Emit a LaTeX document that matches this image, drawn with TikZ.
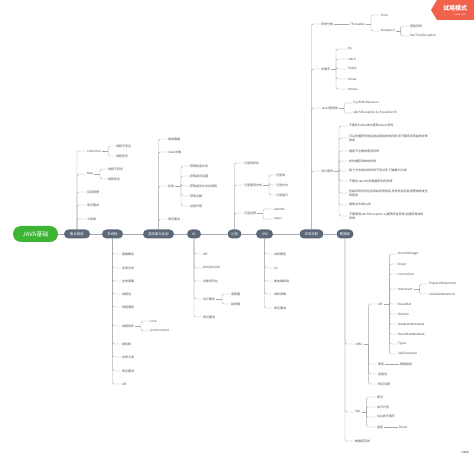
\documentclass[tikz,border=0pt]{standalone}
\usepackage{fontspec}
\setmainfont{Noto Sans CJK SC}
\usetikzlibrary{calc,positioning}
\definecolor{topicgray}{RGB}{92,104,120}
\definecolor{linegray}{RGB}{163,170,178}
\definecolor{leafgray}{RGB}{75,75,75}
\definecolor{rootgreen}{RGB}{62,180,52}
\definecolor{trialred}{RGB}{241,98,76}

\tikzset{
  topic/.style={fill=topicgray, text=white, rounded corners=4.5pt, minimum height=9pt,
                inner xsep=2pt, inner ysep=0pt, font=\fontsize{3.4}{4}\selectfont},
  leaf/.style={anchor=west, text=leafgray, inner sep=0.8pt, font=\fontsize{3}{3.8}\selectfont},
  leafwide/.style={leaf, align=left},
  link/.style={draw=linegray, line width=0.4pt, rounded corners=1.5pt},
}

\begin{document}
\begin{tikzpicture}[x=1pt, y=-1pt]
    \fill[white] (0,0) rectangle (474,457);
    \useasboundingbox (0,0) rectangle (474,457);
    % root and the topics on the main line
    \node[fill=rootgreen, text=white, rounded corners=8pt, minimum height=16pt,
          minimum width=45pt, font=\fontsize{6}{7}\selectfont] (root) at (35.5,234) {JAVA基础};
    \node[topic, minimum width=26pt] (jh) at (77,234) {集合框架};
    \node[topic, minimum width=21pt] (dxc) at (112.5,234) {多线程};
    \node[topic, minimum width=31pt] (fs) at (158.5,234) {类加载与反射};
    \node[topic, minimum width=14pt] (io) at (194,234) {IO};
    \node[topic, minimum width=14pt] (fx) at (234.5,234) {泛型};
    \node[topic, minimum width=17pt] (jvm) at (264.5,234) {JVM};
    \node[topic, minimum width=24pt] (yc) at (311.5,234) {异常机制};
    \node[topic, minimum width=17pt] (db) at (345,234) {数据库};
    \draw[linegray, line width=0.7pt] (root) -- (jh) -- (dxc) -- (fs) -- (io) -- (fx) -- (jvm) -- (yc) -- (db);

    % collections
    \foreach \nm/\txt/\y in {coll/Collection/151, map/Map/174, jhyl/实现原理/192, jhms/常见面试/205, jhgj/工具类/219} {
      \node[leaf] (\nm) at (86,\y) {\txt};
      \draw[link] (jh.north) |- (\nm.west);
    }
    \coordinate (bcoll) at ($(coll.east)+(6,0)$);
    \draw[link] (coll.east) -- (bcoll);
    \foreach \nm/\txt/\y in {collA/线程不安全/146, collB/线程安全/156} {
      \node[leaf] (\nm) at (115,\y) {\txt};
      \draw[link] (bcoll) |- (\nm.west);
    }
    \coordinate (bmap) at ($(map.east)+(6,0)$);
    \draw[link] (map.east) -- (bmap);
    \foreach \nm/\txt/\y in {mapA/线程不安全/169, mapB/线程安全/179} {
      \node[leaf] (\nm) at (107,\y) {\txt};
      \draw[link] (bmap) |- (\nm.west);
    }

    % threads
    \foreach \nm/\txt/\y in {xc1/基础概念/254, xc2/实现方式/268, xc3/生命周期/281, xc4/线程池/294, xc5/线程通信/307,
                             sync/线程同步/326, xc7/锁机制/344, xc8/并发工具/357, xc9/常见面试/371, xc10/API/384} {
      \node[leaf] (\nm) at (121,\y) {\txt};
      \draw[link] (dxc.south) |- (\nm.west);
    }
    \coordinate (bsync) at ($(sync.east)+(6,0)$);
    \draw[link] (sync.east) -- (bsync);
    \foreach \nm/\txt/\y in {lock/Lock/321, syn/synchronized/331} {
      \node[leaf] (\nm) at (149,\y) {\txt};
      \draw[link] (bsync) |- (\nm.west);
    }

    % class loading and reflection
    \foreach \nm/\txt/\y in {fs1/类加载器/139, fs2/Class对象/152, refl/反射/186, fs4/常见面试/219} {
      \node[leaf] (\nm) at (167,\y) {\txt};
      \draw[link] (fs.north) |- (\nm.west);
    }
    \coordinate (brefl) at ($(refl.east)+(6,0)$);
    \draw[link] (refl.east) -- (brefl);
    \foreach \nm/\txt/\y in {rf1/获取构造方法/166, rf2/获取成员变量/176, rf3/获取成员方法并调用/186, rf4/获取注解/196, rf5/动态代理/206} {
      \node[leaf] (\nm) at (189,\y) {\txt};
      \draw[link] (brefl) |- (\nm.west);
    }

    % io
    \foreach \nm/\txt/\y in {io1/API/254, io2/{BIO/NIO/AIO}/268, io3/对象序列化/281, iopat/设计模式/299, io5/常见面试/317} {
      \node[leaf] (\nm) at (202,\y) {\txt};
      \draw[link] (io.south) |- (\nm.west);
    }
    \coordinate (biopat) at ($(iopat.east)+(6,0)$);
    \draw[link] (iopat.east) -- (biopat);
    \foreach \nm/\txt/\y in {pat1/适配器/294, pat2/装饰器/304} {
      \node[leaf] (\nm) at (230,\y) {\txt};
      \draw[link] (biopat) |- (\nm.west);
    }

    % generics
    \foreach \nm/\txt/\y in {fx1/泛型的好处/163, fxuse/泛型使用方式/185, fxbd/泛型边界/213} {
      \node[leaf] (\nm) at (243,\y) {\txt};
      \draw[link] (fx.north) |- (\nm.west);
    }
    \coordinate (bfxuse) at ($(fxuse.east)+(6,0)$);
    \draw[link] (fxuse.east) -- (bfxuse);
    \foreach \nm/\txt/\y in {use1/泛型类/175, use2/泛型方法/185, use3/泛型接口/195} {
      \node[leaf] (\nm) at (275,\y) {\txt};
      \draw[link] (bfxuse) |- (\nm.west);
    }
    \coordinate (bfxbd) at ($(fxbd.east)+(6,0)$);
    \draw[link] (fxbd.east) -- (bfxbd);
    \foreach \nm/\txt/\y in {bd1/extends/209, bd2/super/219} {
      \node[leaf] (\nm) at (273,\y) {\txt};
      \draw[link] (bfxbd) |- (\nm.west);
    }

    % jvm
    \foreach \nm/\txt/\y in {jvm1/内存模型/254, jvm2/GC/268, jvm3/类加载机制/281, jvm4/调优参数/294, jvm5/常见面试/308} {
      \node[leaf] (\nm) at (273,\y) {\txt};
      \draw[link] (jvm.south) |- (\nm.west);
    }

    % exceptions
    \foreach \nm/\txt/\y in {ycfl/异常分类/24, kw/关键字/69, j7/Java7新特性/108, rule/设计原则/171} {
      \node[leaf] (\nm) at (320,\y) {\txt};
      \draw[link] (yc.north) |- (\nm.west);
    }
    \node[leaf] (thr) at (349,24) {Throwable};
    \draw[link] (ycfl.east) -- (thr.west);
    \coordinate (bthr) at ($(thr.east)+(5,0)$);
    \draw[link] (thr.east) -- (bthr);
    \foreach \nm/\txt/\y in {err/Error/15, exc/Exception/31} {
      \node[leaf] (\nm) at (380,\y) {\txt};
      \draw[link] (bthr) |- (\nm.west);
    }
    \coordinate (bexc) at ($(exc.east)+(5,0)$);
    \draw[link] (exc.east) -- (bexc);
    \foreach \nm/\txt/\y in {chk/受检异常/26, rte/RunTimeException/36} {
      \node[leaf] (\nm) at (409,\y) {\txt};
      \draw[link] (bexc) |- (\nm.west);
    }
    \coordinate (bkw) at ($(kw.east)+(5,0)$);
    \draw[link] (kw.east) -- (bkw);
    \foreach \nm/\txt/\y in {kw1/try/49, kw2/catch/59, kw3/finally/69, kw4/throw/79, kw5/throws/89} {
      \node[leaf] (\nm) at (347,\y) {\txt};
      \draw[link] (bkw) |- (\nm.west);
    }
    \coordinate (bj7) at ($(j7.east)+(5,0)$);
    \draw[link] (j7.east) -- (bj7);
    \foreach \nm/\txt/\y in {twr/Try-With-Resource/103, mc/catch(Exception A | Exception B)/113} {
      \node[leaf] (\nm) at (352,\y) {\txt};
      \draw[link] (bj7) |- (\nm.west);
    }
    \coordinate (brule) at ($(rule.east)+(5,0)$);
    \draw[link] (rule.east) -- (brule);
    \foreach \nm/\txt/\y in {r1/{不要在finally块中使用return语句}/126,
                             r2/{可以在捕获异常后抛出更具体的异常,但不要丢弃原始的异常\\信息}/138,
                             r3/{避免不必要的使用异常}/151,
                             r4/{优先捕获具体的异常}/161,
                             r5/{每个方法抛出的异常不宜过多,可抽象为父类}/171,
                             r6/{不要在catch中忽略捕获到的异常}/181,
                             r7/{包装异常时应包含原始异常信息,异常信息应能清楚描述发生\\的错误}/193,
                             r8/{避免过大的try块}/205,
                             r9/{不要使用catch(Exception e)捕获所有异常,应捕获具体的\\异常}/216} {
      \node[leafwide] (\nm) at (348,\y) {\txt};
      \draw[link] (brule) |- (\nm.west);
    }

    % database
    \foreach \nm/\txt/\y in {jdbc/JDBC/344, sql/SQL/412, nf/数据库范式/441} {
      \node[leaf] (\nm) at (354,\y) {\txt};
      \draw[link] (db.south) |- (\nm.west);
    }
    \coordinate (bjdbc) at ($(jdbc.east)+(5,0)$);
    \draw[link] (jdbc.east) -- (bjdbc);
    \foreach \nm/\txt/\y in {api/API/304, tx/事务/364, pool/连接池/374, jd4/常见问题/384} {
      \node[leaf] (\nm) at (377,\y) {\txt};
      \draw[link] (bjdbc) |- (\nm.west);
    }
    \node[leaf] (iso) at (399,364) {隔离级别};
    \draw[link] (tx.east) -- (iso.west);
    \coordinate (bapi) at ($(api.east)+(6,0)$);
    \draw[link] (api.east) -- (bapi);
    \foreach \nm/\txt/\y in {a1/DriverManager/254, a2/Driver/264, a3/Connection/274, stmt/Statement/289,
                             a5/ResultSet/304, a6/RowSet/314, a7/DatabaseMetaData/324, a8/ResultSetMetaData/334,
                             a9/Types/344, a10/SQLException/354} {
      \node[leaf] (\nm) at (397,\y) {\txt};
      \draw[link] (bapi) |- (\nm.west);
    }
    \coordinate (bstmt) at ($(stmt.east)+(6,0)$);
    \draw[link] (stmt.east) -- (bstmt);
    \foreach \nm/\txt/\y in {ps/PreparedStatement/284, cs/CallableStatement/294} {
      \node[leaf] (\nm) at (428,\y) {\txt};
      \draw[link] (bstmt) |- (\nm.west);
    }
    \coordinate (bsql) at ($(sql.east)+(5,0)$);
    \draw[link] (sql.east) -- (bsql);
    \foreach \nm/\txt/\y in {s1/索引/397, s2/执行计划/407, s3/SQL执行顺序/417, mon/监控/427} {
      \node[leaf] (\nm) at (376,\y) {\txt};
      \draw[link] (bsql) |- (\nm.west);
    }
    \node[leaf] (druid) at (398,427) {Druid};
    \draw[link] (mon.east) -- (druid.west);

    % trial banner and corner mark
    \fill[trialred] (437,0) -- (474,0) -- (474,20) -- (437,20) -- (431,10) -- cycle;
    \node[text=white, font=\fontsize{6}{7}\selectfont\bfseries] (trial) at (455,8) {试用模式};
    \node[text=white, font=\fontsize{2}{2}\selectfont] (trialsub) at (460,15) {XMind: ZEN};
    \node[text=leafgray, font=\fontsize{2.5}{3}\selectfont] (mark) at (465,453) {试用版};
\end{tikzpicture}
\end{document}
